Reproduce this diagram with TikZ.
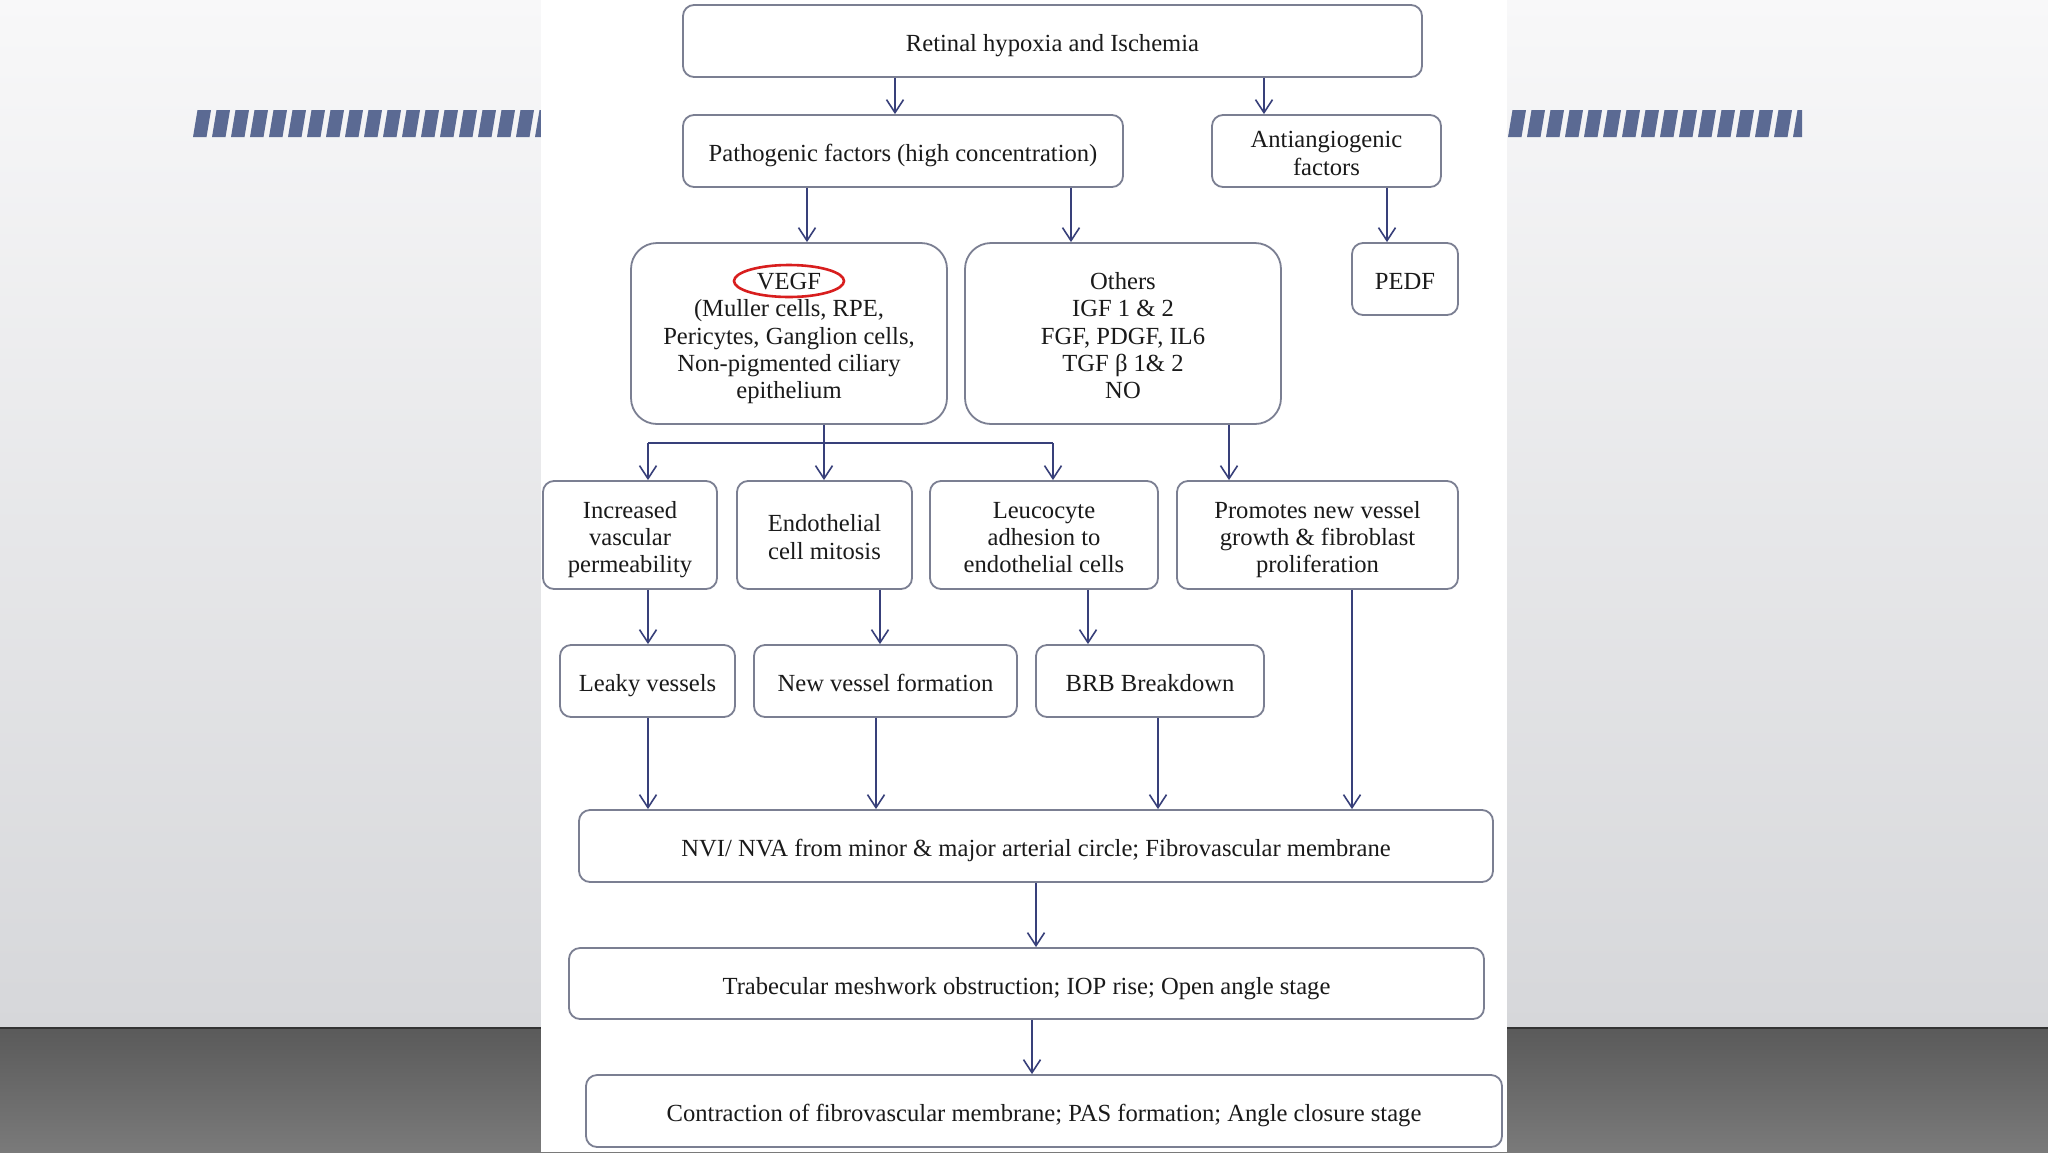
\documentclass[tikz,border=0pt]{standalone}
\usepackage{fontspec}
\setmainfont{Liberation Serif}
\usetikzlibrary{arrows.meta}
\definecolor{stripe}{HTML}{5B6A93}
\definecolor{arrowc}{HTML}{38407A}
\definecolor{boxc}{HTML}{7B7F92}
\definecolor{txt}{HTML}{1A1A1A}
\definecolor{bgtop}{HTML}{F8F8F9}
\definecolor{bgbot}{HTML}{D6D7DA}
\definecolor{floortop}{HTML}{5A5A5A}
\definecolor{floorbot}{HTML}{7A7A7A}
\definecolor{ringred}{HTML}{D81E1E}
\newcommand\Ts{\rule{0pt}{28pt}}
\newcommand\Bs{\rule[-7pt]{0pt}{7pt}}
\tikzset{
  bx/.style={draw=boxc, line width=1.8pt, rounded corners=11pt, fill=white,
    inner sep=0pt, align=center, text=txt,
    font=\fontsize{24.6}{27.4}\selectfont},
  bigbx/.style={bx, rounded corners=26pt},
  arr/.style={draw=arrowc, line width=1.8pt,
    -{Straight Barb[length=13pt,width=17pt,line width=1.6pt]}},
  ln/.style={draw=arrowc, line width=1.8pt}
}
\begin{document}
\begin{tikzpicture}[x=1pt,y=-1pt]
\useasboundingbox (0,0) rectangle (2048,1152);
% background
\shade[top color=bgtop, bottom color=bgbot] (0,0) rectangle (2048,1028);
\shade[top color=floortop, bottom color=floorbot] (0,1028) rectangle (2048,1152);
\draw[line width=2pt, color=black!80] (0,1028) -- (2048,1028);
% stripes
\begin{scope}
\clip (193,100) rectangle (541,145);
\foreach \i in {0,...,18} {
  \fill[stripe] ({193+19*\i},137) -- ({193+19*\i+13.5},137) -- ({193+19*\i+18},110) -- ({193+19*\i+4.5},110) -- cycle;
}
\end{scope}
\begin{scope}
\clip (1507,100) rectangle (1802,145);
\foreach \i in {0,...,15} {
  \fill[stripe] ({1508+19*\i},137) -- ({1508+19*\i+13.5},137) -- ({1508+19*\i+18},110) -- ({1508+19*\i+4.5},110) -- cycle;
}
\end{scope}
% white panel
\fill[white] (541,0) rectangle (1507,1152);

% nodes
\node[bx, minimum width=739pt, minimum height=72pt] (ret) at (1052.5,41) {\Ts Retinal hypoxia and Ischemia\Bs};
\node[bx, minimum width=440pt, minimum height=72pt] (path) at (903,151) {\Ts Pathogenic factors (high concentration)\Bs};
\node[bx, minimum width=229pt, minimum height=72pt] (anti) at (1326.5,151) {\Ts Antiangiogenic\\factors\Bs};
\node[bigbx, minimum width=316pt, minimum height=181pt] (vegf) at (789,333.5) {\Ts VEGF\\(Muller cells, RPE,\\Pericytes, Ganglion cells,\\Non-pigmented ciliary\\epithelium\Bs};
\node[bigbx, minimum width=316pt, minimum height=181pt] (oth) at (1123,333.5) {\Ts Others\\IGF 1 \& 2\\FGF, PDGF, IL6\\TGF β 1\& 2\\NO\Bs};
\node[bx, minimum width=106pt, minimum height=72pt] (pedf) at (1405,279) {\Ts PEDF\Bs};
\node[bx, minimum width=174pt, minimum height=108pt] (inc) at (630,535) {\Ts Increased\\vascular\\permeability\Bs};
\node[bx, minimum width=175pt, minimum height=108pt] (endo) at (824.5,535) {\Ts Endothelial\\cell mitosis\Bs};
\node[bx, minimum width=228pt, minimum height=108pt] (leu) at (1044,535) {\Ts Leucocyte\\adhesion to\\endothelial cells\Bs};
\node[bx, minimum width=281pt, minimum height=108pt] (prom) at (1317.5,535) {\Ts Promotes new vessel\\growth \& fibroblast\\proliferation\Bs};
\node[bx, minimum width=175pt, minimum height=72pt] (leaky) at (647.5,681) {\Ts Leaky vessels\Bs};
\node[bx, minimum width=263pt, minimum height=72pt] (newv) at (885.5,681) {\Ts New vessel formation\Bs};
\node[bx, minimum width=228pt, minimum height=72pt] (brb) at (1150,681) {\Ts BRB Breakdown\Bs};
\node[bx, minimum width=914pt, minimum height=72pt] (nvi) at (1036,846) {\Ts NVI/ NVA from minor \& major arterial circle; Fibrovascular membrane\Bs};
\node[bx, minimum width=915pt, minimum height=71pt] (trab) at (1026.5,983.5) {\Ts Trabecular meshwork obstruction; IOP rise; Open angle stage\Bs};
\node[bx, minimum width=916pt, minimum height=72pt] (con) at (1044,1111) {\Ts Contraction of fibrovascular membrane; PAS formation; Angle closure stage\Bs};

% red ring around VEGF
\draw[ringred, line width=2.6pt] (789,281) ellipse [x radius=55, y radius=16];

% x positions for connectors
\coordinate (xa) at (895,0);
\coordinate (xb) at (1264,0);
\coordinate (xc) at (807,0);
\coordinate (xd) at (1071,0);
\coordinate (xe) at (1387,0);
\coordinate (xf) at (824,0);
\coordinate (xg) at (648,0);
\coordinate (xh) at (1053,0);
\coordinate (xi) at (1229,0);
\coordinate (xj) at (880,0);
\coordinate (xk) at (1088,0);
\coordinate (xl) at (876,0);
\coordinate (xm) at (1158,0);
\coordinate (xn) at (1352,0);
\coordinate (xo) at (1036,0);
\coordinate (xp) at (1032,0);
\coordinate (bar) at (0,443);

% connectors
\draw[arr] (ret.south -| xa) -- (path.north -| xa);
\draw[arr] (ret.south -| xb) -- (anti.north -| xb);
\draw[arr] (path.south -| xc) -- (vegf.north -| xc);
\draw[arr] (path.south -| xd) -- (oth.north -| xd);
\draw[arr] (anti.south -| xe) -- (pedf.north -| xe);
\draw[ln] (vegf.south -| xf) -- (bar -| xf);
\draw[ln] (bar -| xg) -- (bar -| xh);
\draw[arr] (bar -| xg) -- (inc.north -| xg);
\draw[arr] (bar -| xf) -- (endo.north -| xf);
\draw[arr] (bar -| xh) -- (leu.north -| xh);
\draw[arr] (oth.south -| xi) -- (prom.north -| xi);
\draw[arr] (inc.south -| xg) -- (leaky.north -| xg);
\draw[arr] (endo.south -| xj) -- (newv.north -| xj);
\draw[arr] (leu.south -| xk) -- (brb.north -| xk);
\draw[arr] (leaky.south -| xg) -- (nvi.north -| xg);
\draw[arr] (newv.south -| xl) -- (nvi.north -| xl);
\draw[arr] (brb.south -| xm) -- (nvi.north -| xm);
\draw[arr] (prom.south -| xn) -- (nvi.north -| xn);
\draw[arr] (nvi.south -| xo) -- (trab.north -| xo);
\draw[arr] (trab.south -| xp) -- (con.north -| xp);
\end{tikzpicture}
\end{document}
